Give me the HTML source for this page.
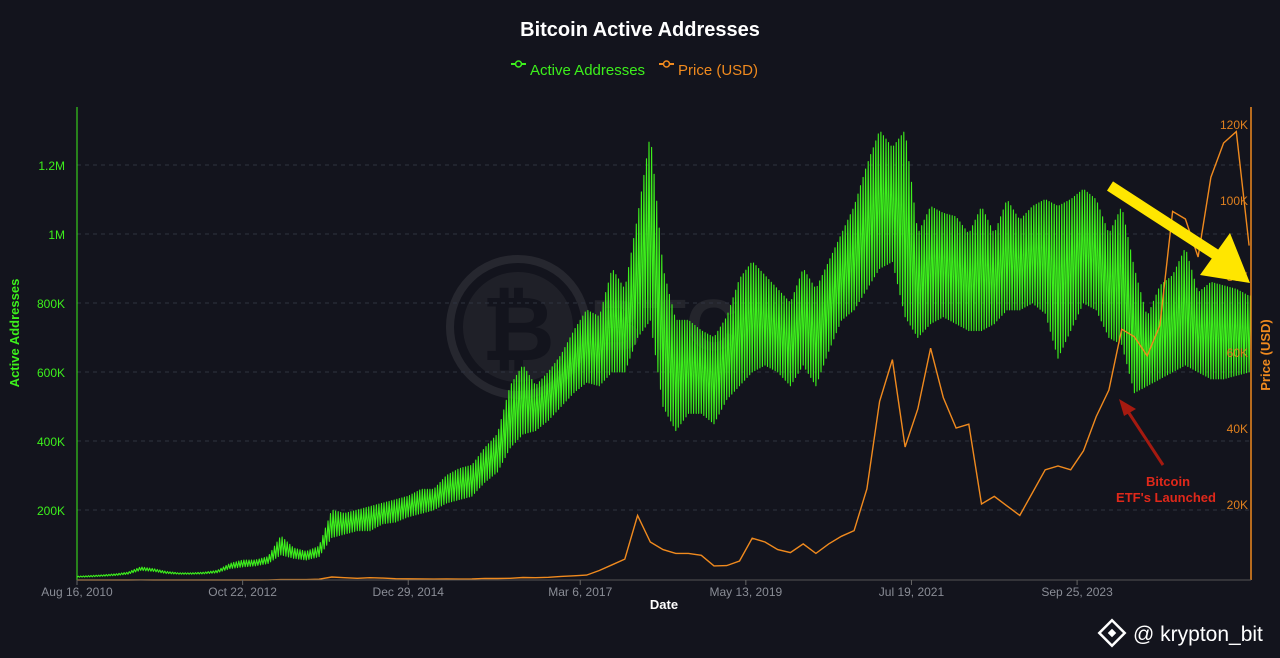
<!DOCTYPE html>
<html><head><meta charset="utf-8">
<style>
html,body{margin:0;padding:0;background:#13141d;}
svg{display:block;font-family:"Liberation Sans",sans-serif;}
</style></head>
<body>
<svg id="chart" width="1280" height="658" viewBox="0 0 1280 658">
<defs><clipPath id="plotclip"><rect x="77" y="100" width="1174" height="481"/></clipPath></defs>
<rect width="1280" height="658" fill="#13141d"/>
<text x="640" y="36" text-anchor="middle" fill="#fff" font-size="20" font-weight="bold">Bitcoin Active Addresses</text>
<g>
 <g>
  <line x1="511" y1="64" x2="526" y2="64" stroke="#3df01c" stroke-width="2"/><circle cx="518.5" cy="64" r="3" fill="#13141d" stroke="#3df01c" stroke-width="1.5"/>
  <text x="530" y="75" fill="#3df01c" font-size="15">Active Addresses</text>
 </g>
 <g>
  <line x1="659" y1="64" x2="674" y2="64" stroke="#f08a1e" stroke-width="2"/><circle cx="666.5" cy="64" r="3" fill="#13141d" stroke="#f08a1e" stroke-width="1.5"/>
  <text x="678" y="75" fill="#f08a1e" font-size="15">Price (USD)</text>
 </g>
</g>
<g opacity="0.14">
 <circle cx="518" cy="327" r="68" fill="none" stroke="#9a9a9a" stroke-width="8"/>
 <circle cx="518" cy="327" r="55" fill="#6a6a6a"/>
 <text x="518" y="360" text-anchor="middle" fill="#13141d" font-size="90" font-weight="bold">₿</text>
 <text x="590" y="350" fill="#8a8a8a" font-size="72" font-weight="bold">BTC</text>
</g>
<g id="grid"></g>
<g id="plot" clip-path="url(#plotclip)"></g>
<g id="axes"></g>
<g>
 <line x1="1110" y1="186" x2="1218" y2="256" stroke="#ffe600" stroke-width="11"/>
 <polygon points="1250,283 1200,275 1230,233" fill="#ffe600"/>
</g>
<g>
 <line x1="1163" y1="465" x2="1127" y2="410" stroke="#a51a10" stroke-width="3"/>
 <polygon points="1119,399 1136,409 1124,416" fill="#a51a10"/>
 <text x="1168" y="486" text-anchor="middle" fill="#e0281a" font-size="13" font-weight="bold">Bitcoin</text>
 <text x="1166" y="502" text-anchor="middle" fill="#e0281a" font-size="13" font-weight="bold">ETF's Launched</text>
</g>
<g>
 <g transform="translate(1112,633) rotate(45)"><rect x="-9" y="-9" width="18" height="18" fill="none" stroke="#fff" stroke-width="2.5"/><rect x="-3" y="-3" width="6" height="6" fill="#fff"/></g>
 <text x="1133" y="641" fill="#fff" font-size="21">@ krypton_bit</text>
</g>
</svg>
<script>
const addrLow=[5,6,8,10,14,25,22,16,14,14,15,18,30,35,38,45,70,60,55,65,120,130,140,140,160,165,180,190,200,220,230,240,280,310,380,420,430,460,500,540,570,560,600,600,700,750,500,430,480,480,450,520,560,600,620,600,560,620,560,660,750,780,840,900,920,760,700,740,760,740,720,720,740,780,780,800,770,640,720,800,780,700,680,540,560,580,600,620,600,580,580,590,600];
const addrHigh=[8,10,12,15,20,35,30,22,18,18,20,25,45,55,55,65,125,90,80,95,200,190,200,210,220,230,240,260,260,300,320,330,380,420,560,620,560,600,650,720,780,760,900,840,1050,1290,900,750,750,720,700,760,870,920,880,840,800,900,840,920,1000,1080,1200,1300,1250,1300,1000,1080,1060,1050,1000,1080,1000,1100,1040,1080,1100,1080,1100,1130,1100,1000,1080,900,760,850,880,960,830,860,850,840,820];
const priceK=[0.01,0.01,0.01,0.01,0.01,0.02,0.01,0.01,0.01,0.01,0.01,0.01,0.01,0.01,0.01,0.03,0.1,0.1,0.1,0.2,0.8,0.6,0.45,0.6,0.5,0.35,0.32,0.25,0.24,0.25,0.23,0.3,0.43,0.4,0.45,0.67,0.6,0.7,0.95,1.1,1.3,2.5,4,5.5,17,10,8,7,7,6.5,3.7,3.8,5,11,10,8,7.2,9.5,7,9.5,11.5,13,24,47,58,35,45,61,48,40,41,20,22,19.5,17,23,29,30,29,34,43,50,66,64,59,67,97,95,85,106,115,118,88];
const leftTicks=[200000,400000,600000,800000,1000000,1200000];
const leftLabels=["200K","400K","600K","800K","1M","1.2M"];
const rightTicks=[20,40,60,80,100,120];
const rightLabels=["20K","40K","60K","80K","100K","120K"];
const xTickMonths=[0,26,52,79,105,131,157];
const xLabels=["Aug 16, 2010","Oct 22, 2012","Dec 29, 2014","Mar 6, 2017","May 13, 2019","Jul 19, 2021","Sep 25, 2023"];

const NS="http://www.w3.org/2000/svg";
const X0=77,X1=1251,Y0=579,YT=107;
const xM=m=>X0+m*6.37;
const yL=v=>Y0-v/200000*69;
const yR=v=>580-v/20*76;
function mk(tag,attrs,parent){const e=document.createElementNS(NS,tag);for(const k in attrs)e.setAttribute(k,attrs[k]);parent.appendChild(e);return e;}
const grid=document.getElementById('grid'),plot=document.getElementById('plot'),axes=document.getElementById('axes');
leftTicks.forEach((t,i)=>{
 const l=mk('line',{x1:X0,x2:X1,y1:yL(t),y2:yL(t),stroke:'#2f3340','stroke-dasharray':'4 4'},grid);
 
 
 const tx=mk('text',{x:X0-12,y:yL(t)+5,'text-anchor':'end',fill:'#3df01c','font-size':'12'},axes);tx.textContent=leftLabels[i];
 
 
});
mk('line',{x1:X0,x2:X0,y1:YT,y2:Y0+1,stroke:'#3df01c','stroke-width':1},axes);
mk('line',{x1:X1,x2:X1,y1:YT,y2:Y0+1,stroke:'#f08a1e','stroke-width':1.5},axes);
mk('line',{x1:X0,x2:X1,y1:Y0+1,y2:Y0+1,stroke:'#555','stroke-width':1},axes);
rightTicks.forEach((t,i)=>{
 const tx=mk('text',{x:X1-3,y:yR(t)+5,'text-anchor':'end',fill:'#e0801e','font-size':'12'},axes);tx.textContent=rightLabels[i];
 
 
});
xTickMonths.forEach((m,i)=>{
 mk('line',{x1:xM(m),x2:xM(m),y1:Y0+1,y2:Y0+6,stroke:'#666'},axes);
 const tx=mk('text',{x:xM(m),y:Y0+17,'text-anchor':'middle',fill:'#8a8d96','font-size':'12'},axes);tx.textContent=xLabels[i];
 
 
});
let t=mk('text',{x:664,y:609,'text-anchor':'middle',fill:'#fff','font-size':'13','font-weight':'bold'},axes);t.textContent='Date';


t=mk('text',{x:0,y:0,'text-anchor':'middle',fill:'#3df01c','font-size':'13','font-weight':'bold',transform:'translate(19,333) rotate(-90)'},axes);t.textContent='Active Addresses';


t=mk('text',{x:0,y:0,'text-anchor':'middle',fill:'#f08a1e','font-size':'13','font-weight':'bold',transform:'translate(1270,355) rotate(-90)'},axes);t.textContent='Price (USD)';



let ap=[];const sub=10;
addrLow.forEach((lo,i)=>{const hi=addrHigh[i];
 const nlo=i+1<addrLow.length?addrLow[i+1]:lo, nhi=i+1<addrHigh.length?addrHigh[i+1]:hi;
 for(let k=0;k<sub;k++){const f=k/sub;const x=xM(i*2)+k*12.74/sub;
  const L=lo+(nlo-lo)*f,H=hi+(nhi-hi)*f;const v=(k%2)?H:L;
  ap.push(x.toFixed(1)+','+yL(v*1000).toFixed(1));}
});
const al=mk('polyline',{points:ap.join(' '),fill:'none',stroke:'#3df01c','stroke-width':1.1,'stroke-linejoin':'round'},plot);


let pp=priceK.map((v,i)=>xM(i*2).toFixed(1)+','+yR(v).toFixed(1)).join(' ');
const pl=mk('polyline',{points:pp,fill:'none',stroke:'#f08a1e','stroke-width':1.4},plot);


</script>
</body></html>
